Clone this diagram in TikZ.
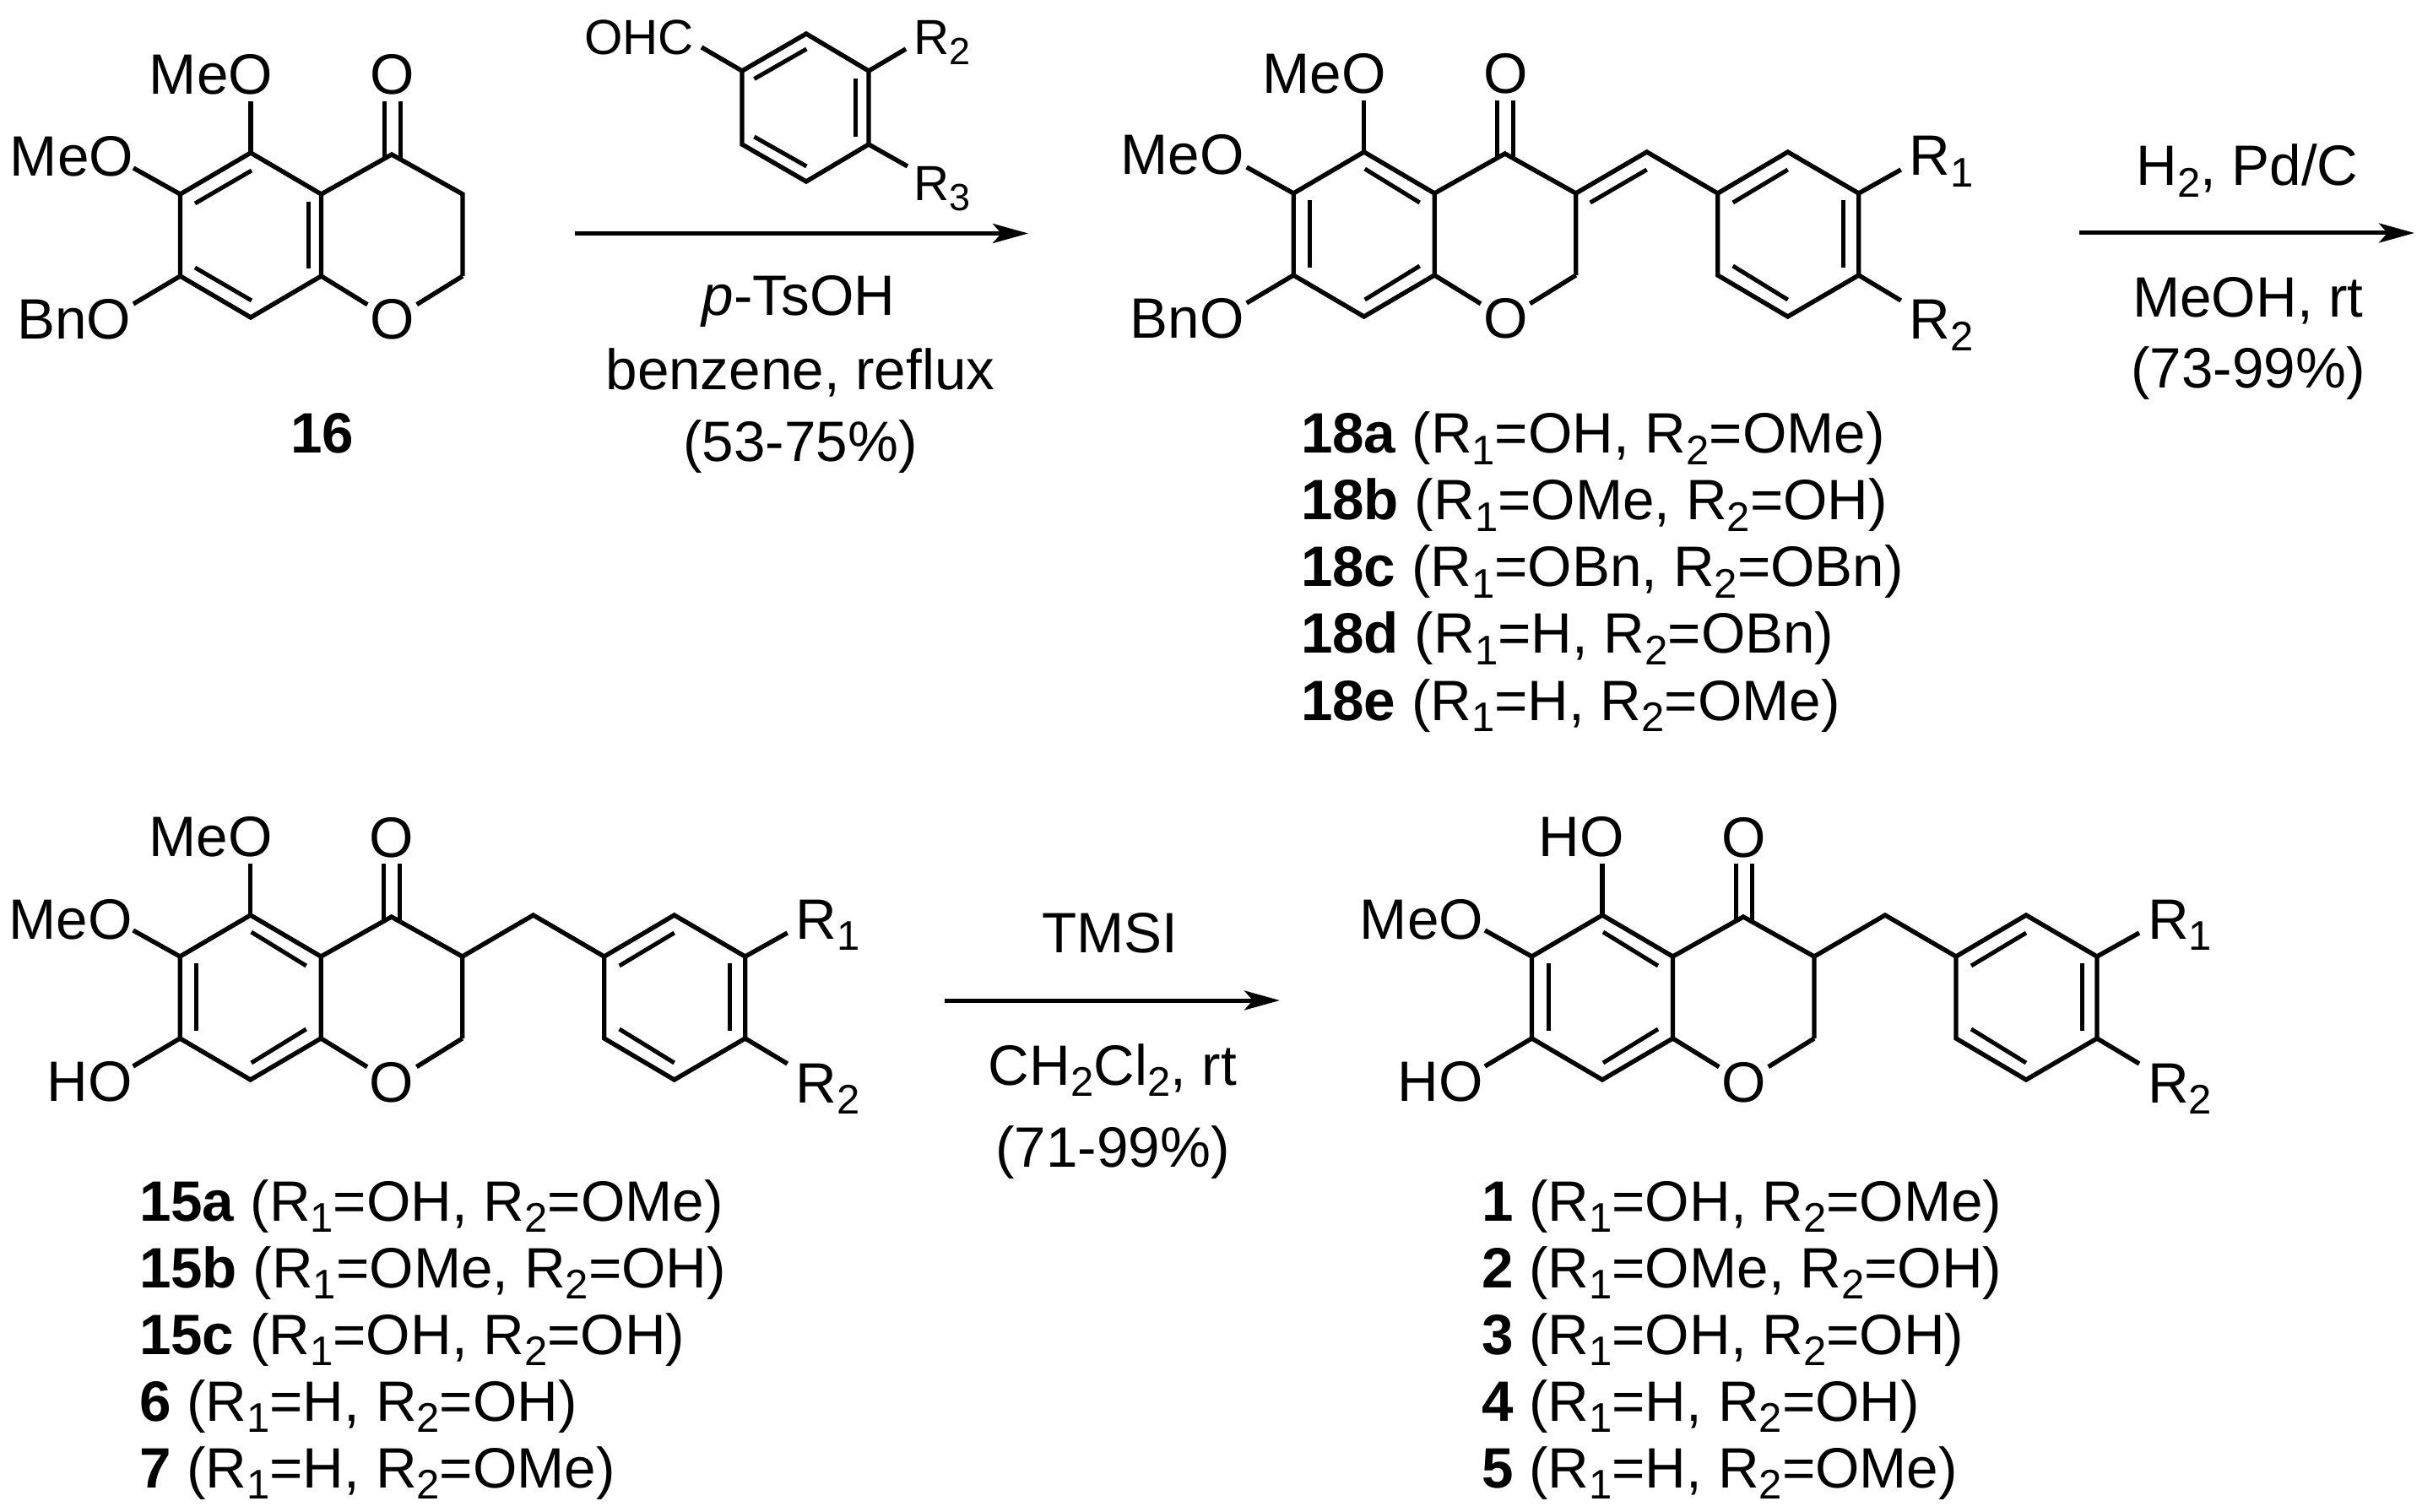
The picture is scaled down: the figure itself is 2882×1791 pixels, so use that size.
\documentclass[tikz,border=0pt]{standalone}
\usepackage{fontspec}
\setmainfont{Liberation Sans}
\usetikzlibrary{arrows.meta}
\newcommand{\fsmain}{\fontsize{33.7pt}{40pt}\selectfont}
\newcommand{\fssmall}{\fontsize{29.2pt}{35pt}\selectfont}
\newcommand{\sbs}[1]{\raisebox{-6.8pt}{\fontsize{24.5pt}{29pt}\selectfont #1}}
\newcommand{\sbsr}[1]{\raisebox{-5.8pt}{\fontsize{22.5pt}{27pt}\selectfont #1}}
\newcommand{\Ra}{R\sbs{1}}
\newcommand{\Rb}{R\sbs{2}}
\tikzset{
  bond/.style={draw=black,line width=2.7pt,line join=miter,line cap=butt},
  inbond/.style={draw=black,line width=2.5pt,line cap=butt},
  lbl/.style={inner sep=0pt,outer sep=0pt,font=\fsmain,text=black},
  rlbl/.style={inner sep=0pt,outer sep=0pt,font=\fssmall,text=black},
  rxn/.style={draw=black,line width=2.5pt,-{Stealth[length=21pt,width=11.5pt,inset=5pt]}}
}
% chromanone core; origin at C5
\newcommand{\corering}{%
  \coordinate (c5) at (0,0);
  \coordinate (c6) at (-83.5,49);
  \coordinate (c7) at (-83.5,146);
  \coordinate (c8) at (0,195);
  \coordinate (c8a) at (83.5,146);
  \coordinate (c4a) at (83.5,49);
  \coordinate (c4) at (167,2);
  \coordinate (c3) at (251,49);
  \coordinate (c2) at (251,146);
  \coordinate (topend) at (0,-61);
  \coordinate (lupend) at (-139,18);
  \coordinate (lloend) at (-139,179);
  \coordinate (cobl) at (158,7);
  \coordinate (cobr) at (177,7.6);
  \coordinate (cotl) at (158,-61);
  \coordinate (cotr) at (177,-61);
  \node[lbl,anchor=base] (oketo) at (167.5,-69) {O};
  \node[lbl,anchor=base,inner sep=1.5pt] (oring) at (167.5,221) {O};
  \draw[bond] (c5)--(c6)--(c7)--(c8)--(c8a)--(c4a)--cycle;
  \draw[bond] (c8a)--(c4a);
  \draw[bond] (c4a)--(c4)--(c3)--(c2);
  \draw[bond] (c2)--(oring);
  \draw[bond] (c8a)--(oring);
  \draw[inbond] (cobl)--(cotl);
  \draw[inbond] (cobr)--(cotr);
  \draw[bond] (c5)--(topend);
  \draw[bond] (c6)--(lupend);
  \draw[bond] (c7)--(lloend);
}
% double bonds pattern for 18, 15, 1
\newcommand{\innerA}{%
  \coordinate (ia1) at (1,20);\coordinate (ia2) at (66,60);
  \coordinate (ib1) at (-64,57);\coordinate (ib2) at (-64,137);
  \coordinate (ic1) at (66,135);\coordinate (ic2) at (1,175);
  \draw[inbond] (ia1)--(ia2);
  \draw[inbond] (ib1)--(ib2);
  \draw[inbond] (ic1)--(ic2);
}
% benzyl part with R1, R2
\newcommand{\arylpart}{%
  \coordinate (ch) at (335,0);
  \coordinate (a1) at (419,49);
  \coordinate (a2) at (502,0);
  \coordinate (a3) at (586,49);
  \coordinate (a4) at (586,146);
  \coordinate (a5) at (502,195);
  \coordinate (a6) at (419,146);
  \coordinate (r1end) at (636,21);
  \coordinate (r2end) at (636,176);
  \coordinate (ja1) at (437,60);\coordinate (ja2) at (502,21);
  \coordinate (jb1) at (568,57);\coordinate (jb2) at (568,137);
  \coordinate (jc1) at (502,175);\coordinate (jc2) at (437,135);
  \draw[bond] (c3)--(ch)--(a1);
  \draw[bond] (a1)--(a2)--(a3)--(a4)--(a5)--(a6)--cycle;
  \draw[inbond] (ja1)--(ja2);
  \draw[inbond] (jb1)--(jb2);
  \draw[inbond] (jc1)--(jc2);
  \draw[bond] (a3)--(r1end);
  \draw[bond] (a4)--(r2end);
  \node[lbl,anchor=base west] (rone) at (646,28) {\Ra};
  \node[lbl,anchor=base west] (rtwo) at (646,222) {\Rb};
}
\begin{document}
\begin{tikzpicture}[x=0.5pt,y=-0.5pt]
\useasboundingbox (0,0) rectangle (2882,1791);

% ---------- 16
\begin{scope}[shift={(297,181)},name prefix=m16-]
  \corering
  \coordinate (pa1) at (1,21);\coordinate (pa2) at (-66,60);
  \coordinate (pb1) at (68,58);\coordinate (pb2) at (68,137);
  \coordinate (pc1) at (-66,136);\coordinate (pc2) at (1,175);
  \draw[inbond] (pa1)--(pa2);
  \draw[inbond] (pb1)--(pb2);
  \draw[inbond] (pc1)--(pc2);
  \node[lbl,anchor=base east] (l1) at (26,-69) {MeO};
  \node[lbl,anchor=base east] (l2) at (-139,28) {MeO};
  \node[lbl,anchor=base east] (l3) at (-142,221) {BnO};
\end{scope}
\node[lbl,anchor=base,font=\fsmain\bfseries] (n16) at (382,537) {16};

% ---------- benzaldehyde
\coordinate (b1) at (879,84);
\coordinate (b2) at (955,40);
\coordinate (b3) at (1029,84);
\coordinate (b4) at (1029,171);
\coordinate (b5) at (955,215);
\coordinate (b6) at (879,171);
\coordinate (bo) at (831,56);
\coordinate (bra) at (1073,58);
\coordinate (brb) at (1075,197);
\coordinate (bi1) at (893.4,93.5);\coordinate (bi2) at (955.4,58);
\coordinate (bi3) at (1013,93);\coordinate (bi4) at (1013,162.5);
\coordinate (bi5) at (893.4,162);\coordinate (bi6) at (955.4,197);
\draw[bond] (b1)--(b2)--(b3)--(b4)--(b5)--(b6)--cycle;
\draw[inbond] (bi1)--(bi2);
\draw[inbond] (bi3)--(bi4);
\draw[inbond] (bi5)--(bi6);
\draw[bond] (b1)--(bo);
\draw[bond] (b3)--(bra);
\draw[bond] (b4)--(brb);
\node[rlbl,anchor=base east] (ohc) at (822,65) {OHC};
\node[rlbl,anchor=base west] (rr2) at (1082,65) {R\sbsr{2}};
\node[rlbl,anchor=base west] (rr3) at (1082,238) {R\sbsr{3}};

% ---------- arrow 1
\coordinate (ar1s) at (681,276.5);
\coordinate (ar1e) at (1218,276.5);
\draw[rxn] (ar1s)--(ar1e);
\node[lbl,anchor=base] (t1a) at (946,374) {\textit{p}-TsOH};
\node[lbl,anchor=base] (t1b) at (948,462) {benzene, reflux};
\node[lbl,anchor=base] (t1c) at (948,547) {(53-75\%)};

% ---------- 18
\begin{scope}[shift={(1615.7,180)},name prefix=m18-]
  \corering
  \innerA
  \arylpart
  \coordinate (ex1) at (268,60);\coordinate (ex2) at (335,21);
  \draw[inbond] (ex1)--(ex2);
  \node[lbl,anchor=base east] (l1) at (26,-69) {MeO};
  \node[lbl,anchor=base east] (l2) at (-142,27) {MeO};
  \node[lbl,anchor=base east] (l3) at (-142,221) {BnO};
\end{scope}
\node[lbl,anchor=base west] (c18a) at (1541,537) {\textbf{18a} (\Ra=OH, \Rb=OMe)};
\node[lbl,anchor=base west] (c18b) at (1541,616) {\textbf{18b} (\Ra=OMe, \Rb=OH)};
\node[lbl,anchor=base west] (c18c) at (1541,695) {\textbf{18c} (\Ra=OBn, \Rb=OBn)};
\node[lbl,anchor=base west] (c18d) at (1541,774) {\textbf{18d} (\Ra=H, \Rb=OBn)};
\node[lbl,anchor=base west] (c18e) at (1541,853) {\textbf{18e} (\Ra=H, \Rb=OMe)};

% ---------- arrow 2
\coordinate (ar2s) at (2463,276);
\coordinate (ar2e) at (2860,276);
\draw[rxn] (ar2s)--(ar2e);
\node[lbl,anchor=base] (t2a) at (2662,220) {H\sbs{2}, Pd/C};
\node[lbl,anchor=base] (t2b) at (2663,376) {MeOH, rt};
\node[lbl,anchor=base] (t2c) at (2663,460) {(73-99\%)};

% ---------- 15
\begin{scope}[shift={(296.7,1084)},name prefix=m15-]
  \corering
  \innerA
  \arylpart
  \node[lbl,anchor=base east] (l1) at (26,-70) {MeO};
  \node[lbl,anchor=base east] (l2) at (-140,28) {MeO};
  \node[lbl,anchor=base east] (l3) at (-140,220) {HO};
\end{scope}
\node[lbl,anchor=base west] (c15a) at (165,1446) {\textbf{15a} (\Ra=OH, \Rb=OMe)};
\node[lbl,anchor=base west] (c15b) at (165,1525) {\textbf{15b} (\Ra=OMe, \Rb=OH)};
\node[lbl,anchor=base west] (c15c) at (165,1604) {\textbf{15c} (\Ra=OH, \Rb=OH)};
\node[lbl,anchor=base west] (c6) at (165,1683) {\textbf{6} (\Ra=H, \Rb=OH)};
\node[lbl,anchor=base west] (c7) at (165,1762) {\textbf{7} (\Ra=H, \Rb=OMe)};

% ---------- arrow 3
\coordinate (ar3s) at (1119,1185);
\coordinate (ar3e) at (1516,1185);
\draw[rxn] (ar3s)--(ar3e);
\node[lbl,anchor=base] (t3a) at (1315,1128) {TMSI};
\node[lbl,anchor=base] (t3b) at (1318,1285) {CH\sbs{2}Cl\sbs{2}, rt};
\node[lbl,anchor=base] (t3c) at (1318,1382) {(71-99\%)};

% ---------- 1-5
\begin{scope}[shift={(1898,1084)},name prefix=m1-]
  \corering
  \innerA
  \arylpart
  \node[lbl,anchor=base east] (l1) at (26,-70) {HO};
  \node[lbl,anchor=base east] (l2) at (-141,28) {MeO};
  \node[lbl,anchor=base east] (l3) at (-141,220) {HO};
\end{scope}
\node[lbl,anchor=base west] (d1) at (1755,1446) {\textbf{1} (\Ra=OH, \Rb=OMe)};
\node[lbl,anchor=base west] (d2) at (1755,1525) {\textbf{2} (\Ra=OMe, \Rb=OH)};
\node[lbl,anchor=base west] (d3) at (1755,1604) {\textbf{3} (\Ra=OH, \Rb=OH)};
\node[lbl,anchor=base west] (d4) at (1755,1683) {\textbf{4} (\Ra=H, \Rb=OH)};
\node[lbl,anchor=base west] (d5) at (1755,1762) {\textbf{5} (\Ra=H, \Rb=OMe)};
\end{tikzpicture}
\end{document}
